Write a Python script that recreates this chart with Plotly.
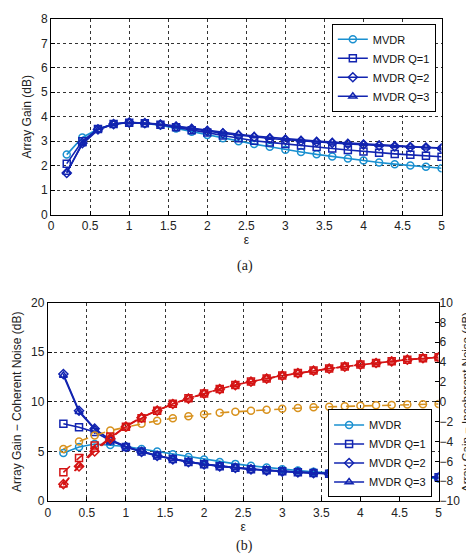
import plotly.graph_objects as go

eps = [0.2, 0.4, 0.6, 0.8, 1.0, 1.2, 1.4, 1.6, 1.8, 2.0, 2.2, 2.4, 2.6, 2.8, 3.0,
       3.2, 3.4, 3.6, 3.8, 4.0, 4.2, 4.4, 4.6, 4.8, 5.0]

# (a) Array gain (dB)
a_mvdr = [2.45, 3.15, 3.50, 3.70, 3.75, 3.72, 3.65, 3.52, 3.38, 3.25, 3.12, 3.00, 2.88,
          2.77, 2.65, 2.56, 2.46, 2.37, 2.29, 2.21, 2.13, 2.06, 2.00, 1.95, 1.89]
a_q1 = [2.08, 3.00, 3.50, 3.70, 3.75, 3.73, 3.67, 3.57, 3.45, 3.35, 3.23, 3.12, 3.02,
        2.95, 2.88, 2.82, 2.76, 2.70, 2.64, 2.58, 2.53, 2.48, 2.44, 2.40, 2.36]
a_q2 = [1.70, 2.92, 3.48, 3.70, 3.76, 3.74, 3.68, 3.60, 3.50, 3.42, 3.32, 3.24, 3.17,
        3.11, 3.06, 3.01, 2.97, 2.93, 2.89, 2.86, 2.82, 2.79, 2.76, 2.74, 2.71]
a_q3 = [1.72, 2.88, 3.46, 3.70, 3.77, 3.75, 3.70, 3.62, 3.53, 3.45, 3.36, 3.28, 3.21,
        3.15, 3.09, 3.04, 3.00, 2.96, 2.92, 2.88, 2.85, 2.81, 2.78, 2.75, 2.72]

# (b) coherent noise (left axis, dB)
b_coh_mvdr = [4.85, 5.45, 5.75, 5.65, 5.50, 5.25, 5.00, 4.72, 4.45, 4.20, 3.95, 3.75, 3.55,
              3.38, 3.22, 3.08, 2.95, 2.83, 2.72, 2.62, 2.53, 2.45, 2.38, 2.32, 2.27]
b_coh_q1 = [7.80, 7.45, 6.95, 6.10, 5.45, 5.00, 4.60, 4.25, 3.95, 3.72, 3.52, 3.36, 3.22,
            3.10, 3.00, 2.91, 2.83, 2.76, 2.70, 2.64, 2.59, 2.54, 2.49, 2.45, 2.41]
b_coh_q2 = [12.80, 9.10, 7.30, 6.15, 5.45, 4.95, 4.55, 4.20, 3.92, 3.70, 3.50, 3.34, 3.20,
            3.08, 2.98, 2.89, 2.81, 2.74, 2.68, 2.62, 2.57, 2.52, 2.48, 2.44, 2.40]
b_coh_q3 = [12.65, 9.00, 7.25, 6.20, 5.50, 5.00, 4.60, 4.25, 3.97, 3.74, 3.54, 3.37, 3.23,
            3.11, 3.01, 2.92, 2.84, 2.77, 2.71, 2.65, 2.60, 2.55, 2.50, 2.46, 2.42]

# (b) incoherent noise (right axis, dB)
b_inc_mvdr = [-4.75, -4.00, -3.40, -2.90, -2.55, -2.20, -1.90, -1.65, -1.45, -1.25, -1.10,
              -1.00, -0.90, -0.80, -0.70, -0.62, -0.55, -0.50, -0.45, -0.40, -0.35, -0.32,
              -0.28, -0.25, -0.22]
b_inc_q1 = [-7.10, -5.65, -4.40, -3.50, -2.50, -1.65, -0.90, -0.20, 0.35, 0.85, 1.30, 1.70,
            2.05, 2.35, 2.65, 2.90, 3.15, 3.35, 3.55, 3.75, 3.92, 4.08, 4.25, 4.40, 4.50]
b_inc_q2 = [-8.30, -6.50, -5.00, -3.70, -2.50, -1.60, -0.88, -0.22, 0.33, 0.83, 1.28, 1.68,
            2.03, 2.34, 2.63, 2.89, 3.14, 3.34, 3.54, 3.74, 3.91, 4.07, 4.24, 4.39, 4.49]
b_inc_q3 = [-8.40, -6.40, -4.80, -3.60, -2.45, -1.55, -0.85, -0.20, 0.35, 0.85, 1.30, 1.70,
            2.05, 2.35, 2.65, 2.90, 3.15, 3.35, 3.55, 3.75, 3.92, 4.08, 4.25, 4.40, 4.50]

names = ["MVDR", "MVDR Q=1", "MVDR Q=2", "MVDR Q=3"]
symbols = ["circle-open", "square-open", "diamond-open", "triangle-up-open"]
blue_colors = ["#1a90d0", "#1224b0", "#1224b0", "#1224b0"]
warm_colors = ["#d8921e", "#d41414", "#d41414", "#d41414"]

fig = go.Figure()

for n, s, c, ys in zip(names, symbols, blue_colors, [a_mvdr, a_q1, a_q2, a_q3]):
    fig.add_trace(go.Scatter(x=eps, y=ys, name=n, mode="lines+markers",
                             line=dict(color=c, width=1.6),
                             marker=dict(symbol=s, size=7, color=c, line=dict(width=1.5, color=c)),
                             xaxis="x", yaxis="y", legend="legend"))

for n, s, c, ys in zip(names, symbols, blue_colors, [b_coh_mvdr, b_coh_q1, b_coh_q2, b_coh_q3]):
    fig.add_trace(go.Scatter(x=eps, y=ys, name=n, mode="lines+markers",
                             line=dict(color=c, width=1.6),
                             marker=dict(symbol=s, size=7, color=c, line=dict(width=1.5, color=c)),
                             xaxis="x2", yaxis="y2", legend="legend2"))

for n, s, c, ys in zip(names, symbols, warm_colors, [b_inc_mvdr, b_inc_q1, b_inc_q2, b_inc_q3]):
    fig.add_trace(go.Scatter(x=eps, y=ys, name=n, mode="lines+markers", showlegend=False,
                             line=dict(color=c, width=1.6, dash="dash"),
                             marker=dict(symbol=s, size=7, color=c, line=dict(width=1.5, color=c)),
                             xaxis="x2", yaxis="y3"))

font = dict(family="Liberation Sans, Arial, sans-serif", size=12, color="#222")
axis_common = dict(showline=True, linecolor="black", linewidth=1, mirror=True,
                   ticks="inside", ticklen=4, tickcolor="black",
                   showgrid=True, gridcolor="#333", griddash="dot", gridwidth=1,
                   zeroline=False, tickfont=font)

tick_vals_x = [0, 0.5, 1, 1.5, 2, 2.5, 3, 3.5, 4, 4.5, 5]
tick_text_x = ["0", "0.5", "1", "1.5", "2", "2.5", "3", "3.5", "4", "4.5", "5"]

legend_font = dict(family=font["family"], size=11, color="#111")

fig.update_layout(
    width=474, height=554,
    margin=dict(l=0, r=0, t=0, b=0),
    paper_bgcolor="white", plot_bgcolor="white",
    font=font,
    xaxis=dict(domain=[0.0859, 0.922], range=[0, 5], tickvals=tick_vals_x, ticktext=tick_text_x,
               anchor="y", title=dict(text="ε", standoff=2, font=font), **axis_common),
    yaxis=dict(domain=[0.6305, 0.9928], range=[0, 8], dtick=1, anchor="x",
               title=dict(text="Array Gain (dB)", standoff=6, font=font), **axis_common),
    xaxis2=dict(domain=[0.0787, 0.9156], range=[0, 5], tickvals=tick_vals_x, ticktext=tick_text_x,
                anchor="y2", title=dict(text="ε", standoff=2, font=font), **axis_common),
    yaxis2=dict(domain=[0.0998, 0.4675], range=[0, 20], dtick=5, anchor="x2",
                title=dict(text="Array Gain − Coherent Noise (dB)", standoff=6, font=font),
                **axis_common),
    yaxis3=dict(range=[-10, 10], dtick=2, overlaying="y2", side="right", anchor="x2",
                showgrid=False, zeroline=False, ticks="inside", ticklen=4, tickcolor="black",
                tickfont=font, tickformat="d"),
    legend=dict(x=0.687, y=0.9838, xanchor="left", yanchor="top", bgcolor="white",
                bordercolor="black", borderwidth=1, font=legend_font,
                tracegroupgap=0, itemwidth=30),
    legend2=dict(x=0.679, y=1 - 495 / 554, xanchor="left", yanchor="bottom", bgcolor="white",
                 bordercolor="black", borderwidth=1, font=legend_font,
                 tracegroupgap=0, itemwidth=30),
    annotations=[
        dict(text="Array Gain − Incoherent Noise (dB)", x=462 / 474, y=(0.0998 + 0.4675) / 2,
             xref="paper", yref="paper", showarrow=False, textangle=-90,
             xanchor="center", yanchor="middle",
             font=dict(family=font["family"], size=11.5, color="#222")),
        dict(text="(a)", x=0.5, y=1 - 258 / 554, xref="paper", yref="paper", showarrow=False,
             xanchor="center", yanchor="middle",
             font=dict(family="Liberation Serif, Times New Roman, serif", size=14, color="#222")),
        dict(text="(b)", x=0.5, y=1 - 545 / 554, xref="paper", yref="paper", showarrow=False,
             xanchor="center", yanchor="middle",
             font=dict(family="Liberation Serif, Times New Roman, serif", size=14, color="#222")),
    ],
)

fig.write_html("out.html")
